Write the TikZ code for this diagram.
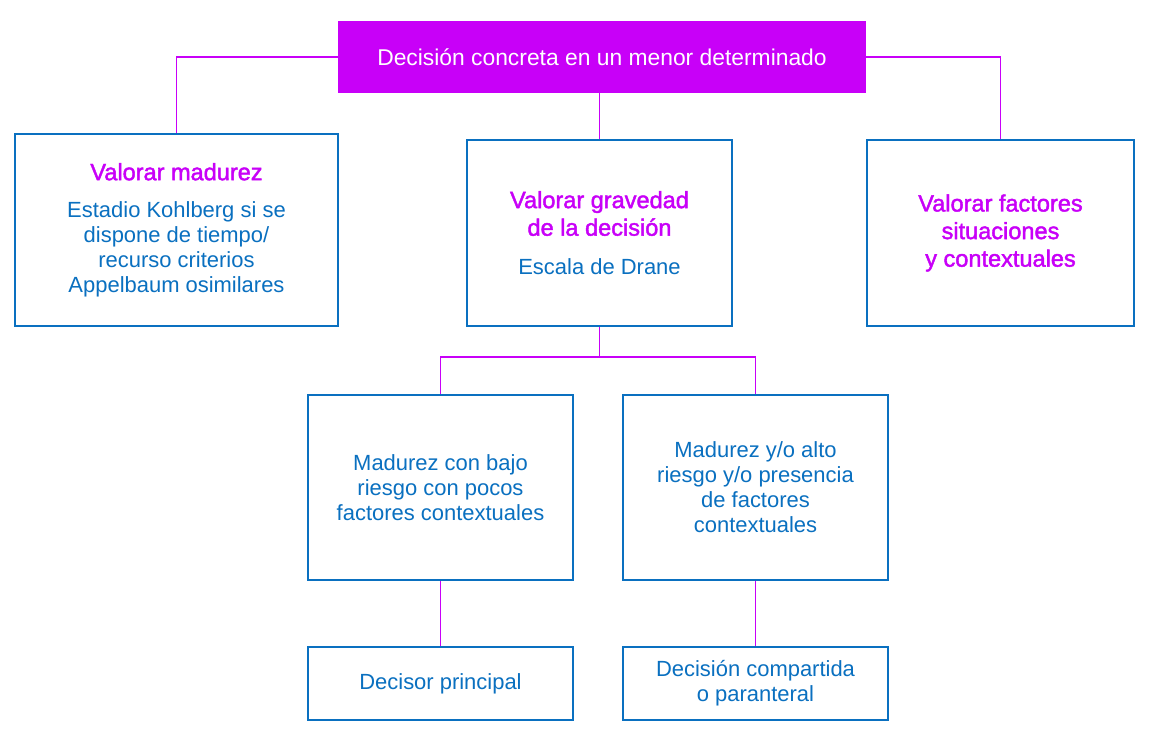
\documentclass[tikz,border=0pt]{standalone}
\usepackage{fontspec}
\setmainfont{Liberation Sans}
\newfontfamily\headfont[FakeBold=1.8]{Liberation Sans}
\usepackage{xcolor}
\usetikzlibrary{positioning}

\definecolor{magentaline}{HTML}{C800F8}
\definecolor{boxblue}{HTML}{0A70C0}

\newcommand{\headline}[1]{{\headfont\fontsize{13.4}{15.5}\selectfont\color{magentaline}#1}}

\tikzset{
  box/.style={draw=boxblue, line width=1.1pt, fill=white, text=boxblue, align=center,
    font=\fontsize{12.5}{14.2}\selectfont, inner sep=2pt},
  topbox/.style={fill=magentaline, text=white, align=center, font=\fontsize{13}{15}\selectfont},
  link/.style={draw=magentaline, line width=0.9pt}
}

\begin{document}
\begin{tikzpicture}[x=0.02cm, y=-0.02cm]
    \useasboundingbox (0,0) rectangle (1150,749);
    % top
    \node[topbox, minimum width=528*0.02cm, minimum height=72*0.02cm] (root) at (602,57) {Decisión concreta en un menor determinado};
    % second row
    \node[box, minimum width=323*0.02cm, minimum height=192*0.02cm] (madurez) at (176.5,230)
      {\headline{Valorar madurez}\\[7pt] Estadio Kohlberg si se\\ dispone de tiempo/\\ recurso criterios\\ Appelbaum osimilares};
    \node[box, minimum width=265*0.02cm, minimum height=186*0.02cm] (gravedad) at (599.5,233)
      {\headline{Valorar gravedad}\\[1.5pt] \headline{de la decisión}\\[8pt] Escala de Drane};
    \node[box, minimum width=267*0.02cm, minimum height=186*0.02cm] (factores) at (1000.5,233)
      {\headline{Valorar factores}\\[1.5pt] \headline{situaciones}\\[1.5pt] \headline{y contextuales}};
    % third row
    \node[box, minimum width=265*0.02cm, minimum height=185*0.02cm] (bajo) at (440.5,487.5)
      {Madurez con bajo\\ riesgo con pocos\\ factores contextuales};
    \node[box, minimum width=265*0.02cm, minimum height=185*0.02cm] (alto) at (755.5,487.5)
      {Madurez y/o alto\\ riesgo y/o presencia\\ de factores\\ contextuales};
    % bottom row
    \node[box, minimum width=265*0.02cm, minimum height=73*0.02cm] (principal) at (440.5,683.5)
      {Decisor principal};
    \node[box, minimum width=265*0.02cm, minimum height=73*0.02cm] (compartida) at (755.5,683.5)
      {Decisión compartida\\ o paranteral};

    \coordinate (split) at (599.5,357);

    \draw[link] (root.west) -| (madurez.north);
    \draw[link] (root.east) -| (factores.north);
    \draw[link] (gravedad.north) -- (gravedad.north |- root.south);
    \draw[link] (gravedad.south) -- (split);
    \draw[link] (split) -| (bajo.north);
    \draw[link] (split) -| (alto.north);
    \draw[link] (bajo.south) -- (principal.north);
    \draw[link] (alto.south) -- (compartida.north);
  \end{tikzpicture}
\end{document}
